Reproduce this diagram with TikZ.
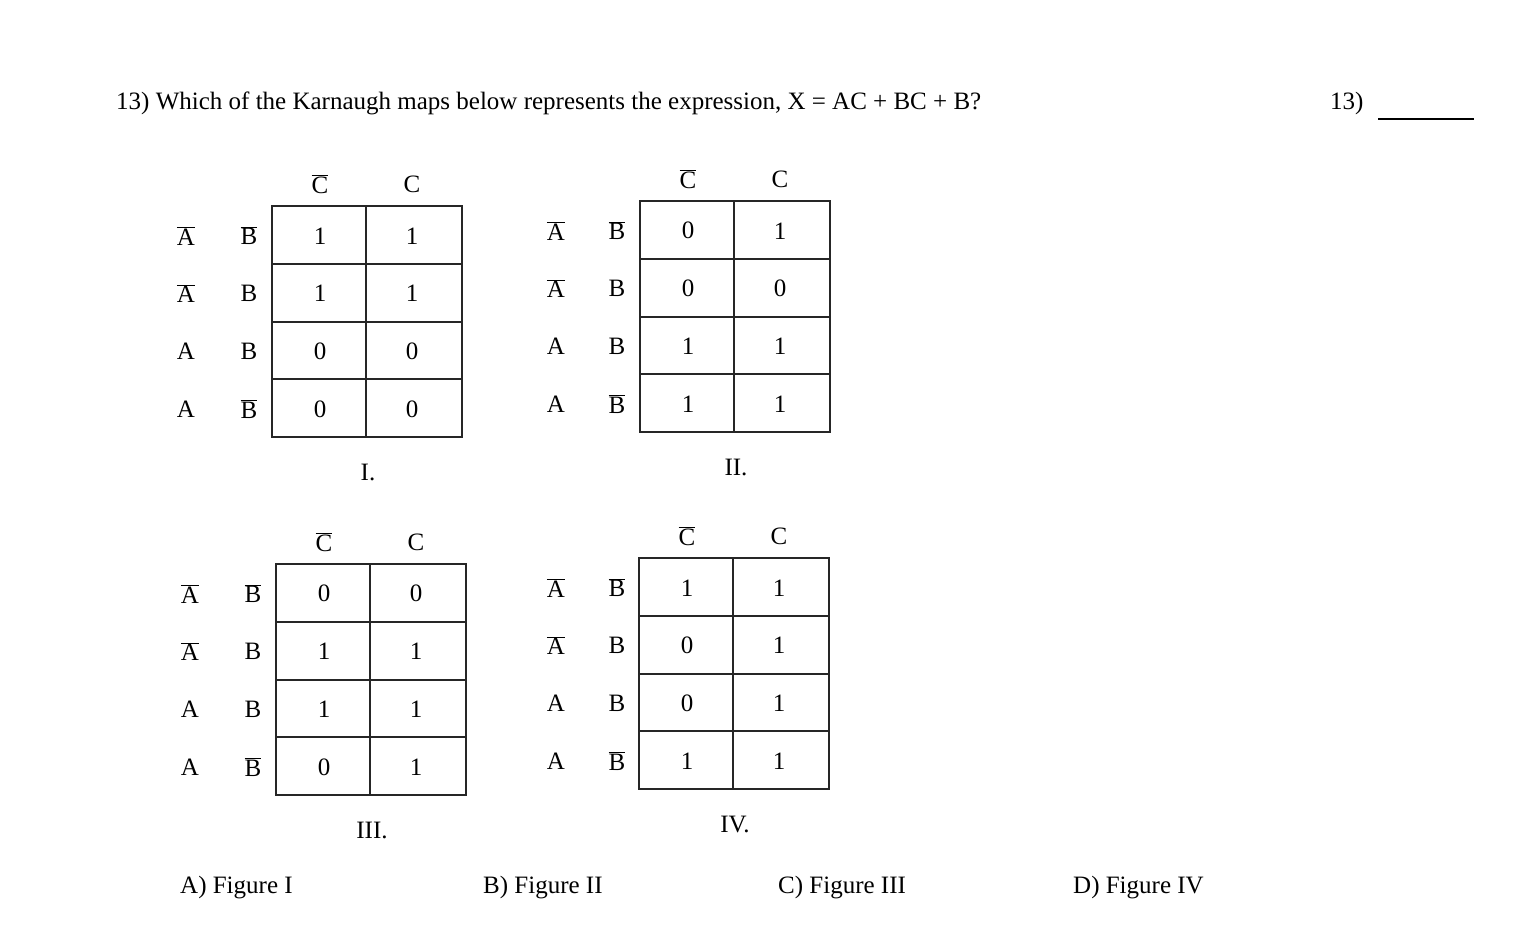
\documentclass[tikz,border=0pt]{standalone}
\usepackage{fontspec}
\setmainfont{Liberation Serif}
\newcommand{\ovl}[1]{$\overline{\mbox{#1}}$}
\newcommand{\kmap}[7]{%
% #1 id, #2 left x, #3 top y, #4 A label x, #5 B label x, #6 values list, #7 caption
\draw[grid] (#2,#3) rectangle ++(190,231);
\draw[grid] (#2+94,#3) -- ++(0,231);
\foreach \r in {1,2,3} \draw[grid] (#2,#3+\r*57.75) -- ++(190,0);
\node[txt] (#1hc1) at (#2+48,#3-22) {\ovl{C}};
\node[txt] (#1hc2) at (#2+140,#3-22) {C};
\foreach \a/\b [count=\r] in {{\ovl{A}}/{\ovl{B}},{\ovl{A}}/B,A/B,A/{\ovl{B}}} {
  \node[txt] (#1a\r) at (#4,#3-28+\r*57.75) {\a};
  \node[txt] (#1b\r) at (#5,#3-28+\r*57.75) {\b};
}
\foreach \u/\v [count=\r] in {#6} {
  \node[txt] (#1v\r x) at (#2+48,#3-28+\r*57.75) {\u};
  \node[txt] (#1v\r y) at (#2+140,#3-28+\r*57.75) {\v};
}
\node[txt] (#1cap) at (#2+96,#3+266) {#7};
}
\begin{document}
\begin{tikzpicture}[x=1pt,y=-1pt,
  txt/.style={inner sep=0pt,font=\fontsize{25}{28}\selectfont},
  grid/.style={line width=2pt,draw=black!85}]
\useasboundingbox (0,0) rectangle (1530,926);
\node[txt,anchor=west] (q) at (116,103) {13) Which of the Karnaugh maps below represents the expression, X = AC + BC + B?};
\node[txt,anchor=west] (qn) at (1330,103) {13)};
\coordinate (l1) at (1378,119); \coordinate (l2) at (1474,119);
\draw[line width=1.5pt] (l1) -- (l2);
\kmap{m1}{272}{206}{186}{249}{1/1,1/1,0/0,0/0}{I.}
\kmap{m2}{640}{201}{556}{617}{0/1,0/0,1/1,1/1}{II.}
\kmap{m3}{276}{564}{190}{253}{0/0,1/1,1/1,0/1}{III.}
\kmap{m4}{639}{558}{556}{617}{1/1,0/1,0/1,1/1}{IV.}
\node[txt,anchor=west] (oa) at (180,888) {A) Figure I};
\node[txt,anchor=west] (ob) at (483,888) {B) Figure II};
\node[txt,anchor=west] (oc) at (778,888) {C) Figure III};
\node[txt,anchor=west] (od) at (1073,888) {D) Figure IV};
\end{tikzpicture}
\end{document}
